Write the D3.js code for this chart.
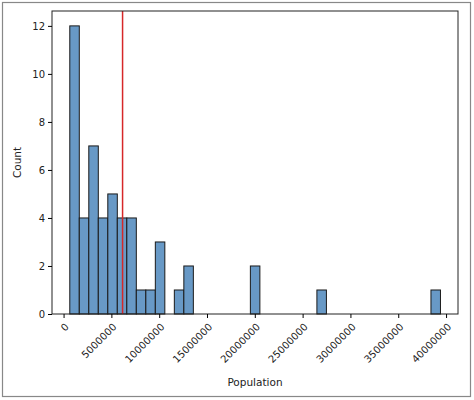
<!DOCTYPE html>
<html><head><meta charset="utf-8">
<script src="https://cdn.jsdelivr.net/npm/d3@7"></script>
<style>body{margin:0;background:#fff;font-family:"DejaVu Sans",sans-serif}</style>
</head><body>
<svg id="c" width="474" height="400"></svg>
<script>
const binStart = 650000;
const binWidth = 994000;
const counts = [12,4,7,4,5,4,4,1,1,3,0,1,2,0,0,0,0,0,0,2,0,0,0,0,0,0,1,0,0,0,0,0,0,0,0,0,0,0,1];
const meanValue = 6170000;
const xTicks = [0,5000000,10000000,15000000,20000000,25000000,30000000,35000000,40000000];
const yTicks = [0,2,4,6,8,10,12];

const svg = d3.select("#c");
svg.append("rect").attr("x",2.5).attr("y",2.5).attr("width",468).attr("height",394)
  .attr("fill","#fff").attr("stroke","#888").attr("stroke-width",1.2);
const L=52,R=458,T=11,B=314;
const x = d3.scaleLinear().domain([-1210000,41250000]).range([L,R]);
const y = d3.scaleLinear().domain([0,12.62]).range([B,T]);

const bins = counts.map((c,i)=>({x0:binStart+i*binWidth,x1:binStart+(i+1)*binWidth,c}));
svg.append("g").selectAll("rect").data(bins.filter(d=>d.c>0)).join("rect")
  .attr("x",d=>x(d.x0)).attr("width",d=>x(d.x1)-x(d.x0))
  .attr("y",d=>y(d.c)).attr("height",d=>y(0)-y(d.c))
  .attr("fill","#6899c6").attr("stroke","#1a1a1a").attr("stroke-width",1);

svg.append("line").attr("x1",x(meanValue)).attr("x2",x(meanValue)).attr("y1",T).attr("y2",B)
  .attr("stroke","#d62728").attr("stroke-width",1.5);

svg.append("rect").attr("x",L).attr("y",T).attr("width",R-L).attr("height",B-T)
  .attr("fill","none").attr("stroke","#222").attr("stroke-width",1);

const xa = svg.append("g").attr("transform",`translate(0,${B})`)
  .call(d3.axisBottom(x).tickValues(xTicks).tickFormat(d=>String(d)).tickSize(4).tickSizeOuter(0));
xa.select(".domain").remove();
xa.selectAll("text").attr("font-size",10).attr("font-family","DejaVu Sans")
  .attr("fill","#222").attr("text-anchor","end").attr("x",0).attr("y",0).attr("dy","0.35em")
  .attr("transform","translate(3,11) rotate(-45)");
const ya = svg.append("g").attr("transform",`translate(${L},0)`)
  .call(d3.axisLeft(y).tickValues(yTicks).tickSize(4).tickSizeOuter(0));
ya.select(".domain").remove();
ya.selectAll("text").attr("font-size",10).attr("font-family","DejaVu Sans").attr("fill","#222");

svg.append("text").attr("x",(L+R)/2).attr("y",386).attr("text-anchor","middle")
  .attr("font-size",10.5).attr("fill","#222").text("Population");
svg.append("text").attr("transform",`translate(21,${(T+B)/2}) rotate(-90)`).attr("text-anchor","middle")
  .attr("font-size",10.5).attr("fill","#222").text("Count");
</script></body></html>
